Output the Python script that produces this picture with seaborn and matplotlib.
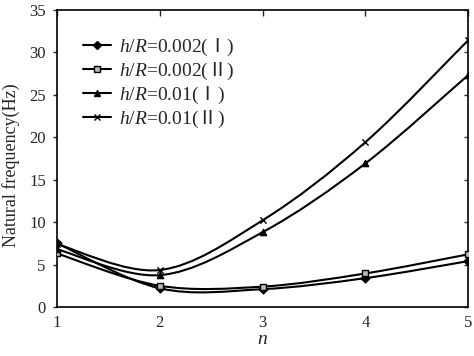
import numpy as np
import matplotlib
matplotlib.use("Agg")
import matplotlib.pyplot as plt
import seaborn as sns
from matplotlib.path import Path
from matplotlib.patches import PathPatch
from matplotlib.lines import Line2D

# values
n = [1, 2, 3, 4, 5]
f_002_I = [7.5, 2.2, 2.1, 3.4, 5.4]
f_002_II = [6.3, 2.5, 2.4, 3.95, 6.2]
f_01_I = [6.8, 3.75, 8.8, 16.9, 27.3]
f_01_II = [7.4, 4.35, 10.2, 19.4, 31.4]

labels = [r"$h/R$=0.002($\mathsf{Ⅰ}$)", r"$h/R$=0.002($\mathsf{Ⅱ}$)",
          r"$h/R$=0.01($\mathsf{Ⅰ}$)", r"$h/R$=0.01($\mathsf{Ⅱ}$)"]
series = [f_002_I, f_002_II, f_01_I, f_01_II]
markers = ["D", "s", "^", "x"]

sns.set_style("white")
plt.rcParams["font.family"] = ["Liberation Serif", "Noto Sans CJK SC"]
plt.rcParams["mathtext.fontset"] = "custom"
plt.rcParams["mathtext.it"] = "Liberation Serif:italic"
plt.rcParams["mathtext.rm"] = "Liberation Serif"
plt.rcParams["mathtext.sf"] = "Noto Sans CJK SC"

fig = plt.figure(figsize=(4.74, 3.56), dpi=100)
ax = fig.add_axes([0.120, 0.1376, 0.868, 0.8357])


def smooth_path(x, y):
    # Excel-like smoothed line drawn as cubic bezier segments
    x = np.asarray(x, float)
    y = np.asarray(y, float)
    verts = [(x[0], y[0])]
    codes = [Path.MOVETO]
    k = len(x)
    for i in range(k - 1):
        i0 = max(i - 1, 0)
        i3 = min(i + 2, k - 1)
        c1 = (x[i] + (x[i + 1] - x[i0]) / 6, y[i] + (y[i + 1] - y[i0]) / 6)
        c2 = (x[i + 1] - (x[i3] - x[i]) / 6, y[i + 1] - (y[i3] - y[i]) / 6)
        verts += [c1, c2, (x[i + 1], y[i + 1])]
        codes += [Path.CURVE4] * 3
    return Path(verts, codes)


handles = []
for vals, mk, lab in zip(series, markers, labels):
    ax.add_patch(PathPatch(smooth_path(n, vals), fill=False, lw=1.5,
                           edgecolor="black", zorder=2))
    face = "#bbbbbb" if mk == "s" else "black"
    sns.scatterplot(x=n, y=vals, marker=mk, s=20, color=face,
                    edgecolor="black", linewidth=1.0, ax=ax, zorder=3)
    handles.append(Line2D([], [], color="black", lw=1.5, marker=mk,
                          markersize=4.5, markerfacecolor=face,
                          markeredgecolor="black"))

ax.set_xlim(1, 5)
ax.set_ylim(0, 35)
ax.set_xticks([1, 2, 3, 4, 5])
ax.set_yticks([0, 5, 10, 15, 20, 25, 30, 35])
for sp in ax.spines.values():
    sp.set_visible(True)
    sp.set_color("black")
    sp.set_linewidth(1.2)

ax.tick_params(axis="x", which="both", direction="inout", length=6, width=1,
               top=True, labelsize=12, pad=3)
ax.tick_params(axis="y", which="both", direction="out", length=3, width=1,
               left=True, labelsize=12, pad=5)
ax.tick_params(axis="y", right=True)
for t in ax.yaxis.get_ticklines()[1::2]:
    t.set_marker(matplotlib.markers.TICKLEFT)
for t in ax.xaxis.get_ticklines()[1::2]:
    t.set_marker(matplotlib.markers.TICKDOWN)
    t.set_markersize(4)

ax.set_xlabel("$n$", fontsize=14, labelpad=0)
ax.set_ylabel("Natural frequency(Hz)", fontsize=13, labelpad=4)
ax.yaxis.set_label_coords(-0.09, 0.477)

ax.legend(handles, labels, loc="upper left", bbox_to_anchor=(0.045, 0.935),
          frameon=False, fontsize=14, handlelength=1.45, handletextpad=0.4,
          labelspacing=0.15, borderaxespad=0)

fig.savefig("out.png", dpi=100)
